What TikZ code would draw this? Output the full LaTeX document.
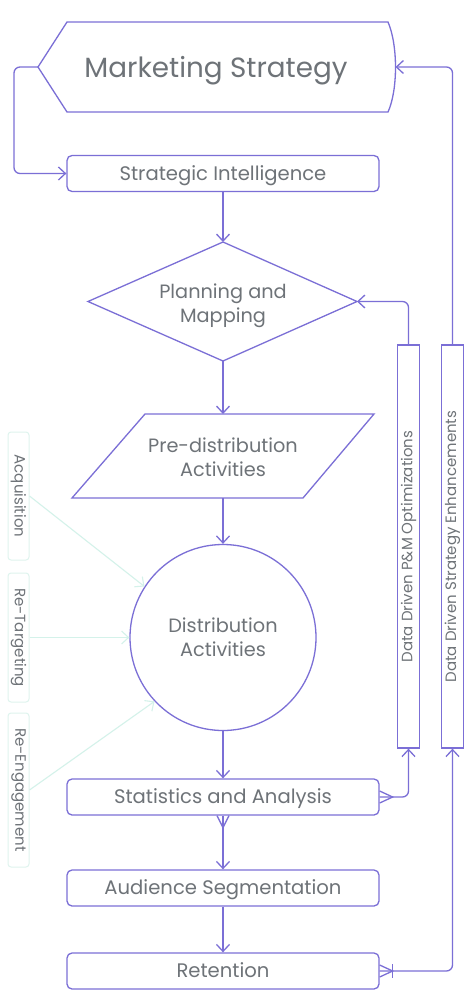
\documentclass[tikz,border=0pt]{standalone}
\usepackage{fontspec}
\setmainfont{Poppins}
\usetikzlibrary{arrows.meta,calc}
\definecolor{lineC}{HTML}{7B6FD6}
\definecolor{txtC}{HTML}{6E7378}
\definecolor{mintC}{HTML}{D4F2EA}
\definecolor{mintB}{HTML}{DFF4EE}
\begin{document}
\begin{tikzpicture}[x=1pt,y=-1pt,
  ln/.style={draw=lineC,line width=1.3pt},
  arr/.style={ln,-{Straight Barb[length=7pt,width=13pt]}},
  marr/.style={draw=mintC,line width=1.1pt,-{Straight Barb[length=7pt,width=13pt]}},
  txt/.style={text=txtC,align=center,inner sep=0pt,font=\fontsize{19.6}{23.5}\selectfont},
  mtxt/.style={txt,anchor=base,font=\fontsize{19.3}{23.5}\selectfont},
  box/.style={ln,txt,rounded corners=5pt,minimum width=312pt,minimum height=36pt,text height=13.7pt,text depth=0pt},
  vbox/.style={ln,txt,minimum width=22pt,minimum height=403pt,font=\fontsize{15}{17}\selectfont},
  mbox/.style={draw=mintB,line width=1pt,rounded corners=3pt,txt,minimum width=21pt,font=\fontsize{15}{17}\selectfont},
  roundbend/.style={rounded corners=6pt}]
\fill[white] (0,0) rectangle (474,1004);
\useasboundingbox (0,0) rectangle (474,1004);
% Marketing Strategy
\draw[ln] (388,22) .. controls (398,45) and (398,90) .. (388,112) -- (67,112) -- (38,67) -- (67,22) -- cycle;
\node[txt,anchor=base,font=\fontsize{27.8}{32}\selectfont] (ms) at (216,77) {Marketing Strategy};
\coordinate (msL) at (38,67);
\coordinate (msR) at (395.5,67);
% boxes
\node[box] (si) at (223,173.5) {Strategic Intelligence};
\node[box] (sa) at (223,797) {Statistics and Analysis};
\node[box] (as) at (223,888) {Audience Segmentation};
\node[box] (rt) at (223,971) {Retention};
% diamond
\coordinate (pmT) at (223,242);
\coordinate (pmR) at (357,301.5);
\coordinate (pmB) at (223,361);
\coordinate (pmL) at (88,301.5);
\draw[ln] (pmT) -- (pmR) -- (pmB) -- (pmL) -- cycle;
\node[mtxt] (pm) at (223,322) {Planning and\\Mapping};
% parallelogram
\coordinate (pdT) at (223,414);
\coordinate (pdB) at (223,498);
\draw[ln] (145,414) -- (374,414) -- (303,498) -- (72,498) -- cycle;
\node[mtxt] (pd) at (223,476) {Pre-distribution\\Activities};
% circle
\node[ln,circle,minimum size=186pt] (da) at (223,637.5) {};
\node[mtxt] (dat) at (223,656) {Distribution\\Activities};
% vertical boxes
\node[vbox] (pmo) at (408.5,546.5) {\rotatebox{90}{Data Driven P\&M Optimizations}};
\node[vbox] (sde) at (452.5,546.5) {\rotatebox{90}{Data Driven Strategy Enhancements}};
% left labels
\node[mbox,minimum height=128pt] (acq) at (18.5,496) {\rotatebox{-90}{Acquisition}};
\node[mbox,minimum height=129pt] (rtg) at (18.5,637.5) {\rotatebox{-90}{Re-Targeting}};
\node[mbox,minimum height=154pt] (ren) at (18.5,790) {\rotatebox{-90}{Re-Engagement}};
% main flow
\draw[arr,roundbend] (msL) -- ++(-24,0) |- (si.west);
\draw[arr] (si.south) -- (pmT);
\draw[arr] (pmB) -- (pdT);
\draw[arr] (pdB) -- (da.north);
\draw[arr] (da.south) -- (sa.north);
\draw[arr] (sa.south) -- (as.north);
\draw[arr] (as.south) -- (rt.north);
% feedback
\draw[arr,roundbend] (sa.east) -| (pmo.south);
\draw[arr,roundbend] (rt.east) -| (sde.south);
\draw[arr,roundbend] (pmo.north) |- (pmR);
\draw[arr,roundbend] (sde.north) |- (msR);
% crow's feet
\draw[ln] ($(sa.south)+(-6,0)$) -- ($(sa.south)+(0,12)$) -- ($(sa.south)+(6,0)$);
\draw[ln] ($(sa.east)+(0,-6)$) -- ($(sa.east)+(13,0)$) -- ($(sa.east)+(0,6)$);
\draw[ln] ($(rt.east)+(0,-6)$) -- ($(rt.east)+(13,0)$) -- ($(rt.east)+(0,6)$);
\draw[ln] ($(rt.east)+(13,-7)$) -- ($(rt.east)+(13,7)$);
% mint inputs
\draw[marr] (acq.east) -- (da.147);
\draw[marr] (rtg.east) -- (da.west);
\draw[marr] (ren.east) -- (da.223);
\end{tikzpicture}
\end{document}
